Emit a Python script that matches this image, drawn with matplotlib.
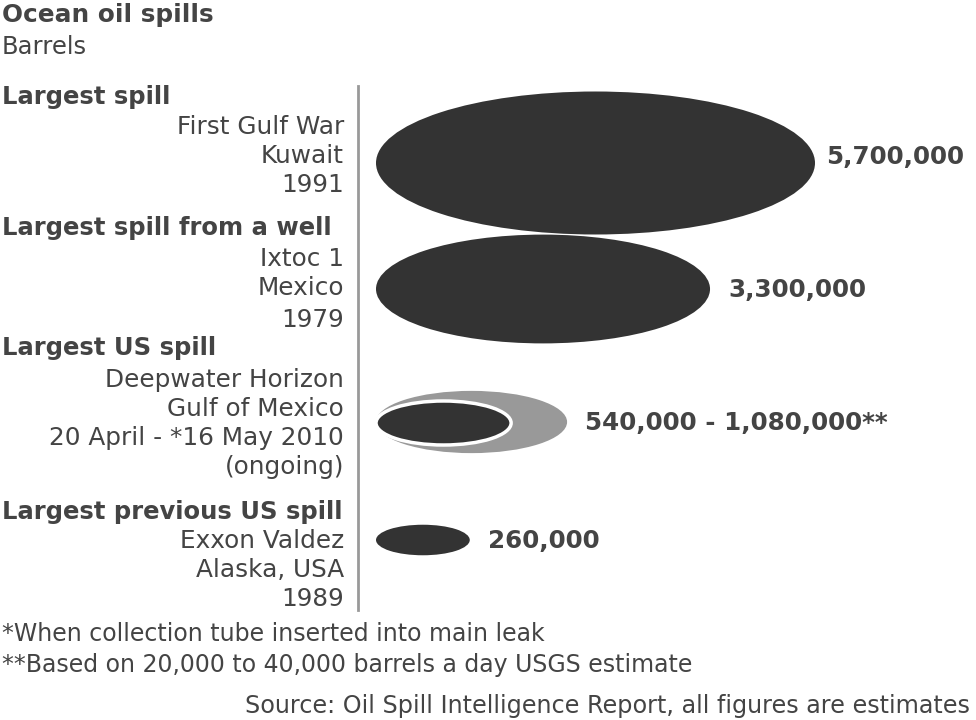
import numpy as np
import matplotlib
matplotlib.use("Agg")
import matplotlib.pyplot as plt
from matplotlib.patches import Ellipse

# Data
headings = ["Largest spill", "Largest spill from a well", "Largest US spill", "Largest previous US spill"]
details = [
    ["First Gulf War", "Kuwait", "1991"],
    ["Ixtoc 1", "Mexico", "1979"],
    ["Deepwater Horizon", "Gulf of Mexico", "20 April - *16 May 2010", "(ongoing)"],
    ["Exxon Valdez", "Alaska, USA", "1989"],
]
low_values = [5700000, 3300000, 540000, 260000]
high_values = [5700000, 3300000, 1080000, 260000]
value_labels = ["5,700,000", "3,300,000", "540,000 - 1,080,000**", "260,000"]

# layout (pixel coordinates)
heading_y = [97, 228, 348, 512]
detail_y = [[127, 156, 185], [259, 288, 320], [380, 409, 438, 467], [541, 570, 599]]
bubble_y = [163, 289, 422, 540]

plt.rcParams['font.family'] = ['DejaVu Sans']
txt = '#444444'
dark = '#333333'

fig = plt.figure(figsize=(9.76, 7.2), dpi=100)
ax = fig.add_axes([0, 0, 1, 1])
ax.set_xlim(0, 976)
ax.set_ylim(720, 0)
ax.axis('off')

ax.text(2, 15, "Ocean oil spills", fontsize=17.8, fontweight='bold', color=txt, va='center')
ax.text(2, 47, "Barrels", fontsize=17.5, color=txt, va='center')

for h, hy, det, dy in zip(headings, heading_y, details, detail_y):
    ax.text(2, hy, h, fontsize=17.5, fontweight='bold', color=txt, va='center')
    for d, y in zip(det, dy):
        ax.text(344, y, d, fontsize=17.8, color=txt, va='center', ha='right')

ax.plot([358, 358], [86, 610], color='#999999', lw=2)

# bubbles: area proportional to value
max_v = max(high_values)
max_w, max_h = 439, 143
left = 376
for lo, hi, lab, y in zip(low_values, high_values, value_labels, bubble_y):
    s_hi = np.sqrt(hi / max_v)
    s_lo = np.sqrt(lo / max_v)
    w, h = max_w * s_hi, max_h * s_hi
    if hi != lo:
        ax.add_patch(Ellipse((left + w / 2, y), w, h, facecolor='#999999', edgecolor='none'))
        w2, h2 = max_w * s_lo, max_h * s_lo
        ax.add_patch(Ellipse((left + w2 / 2, y + 1), w2, h2, facecolor=dark, edgecolor='white', lw=2.5))
    else:
        ax.add_patch(Ellipse((left + w / 2, y), w, h, facecolor=dark, edgecolor='none'))
    big = hi == max_v
    ax.text(left + w + (11 if big else 18), y - 6 if big else y + 1, lab, fontsize=17.7,
            fontweight='bold', color=txt, va='center')

ax.text(2, 634, "*When collection tube inserted into main leak", fontsize=17, color=txt, va='center')
ax.text(2, 665, "**Based on 20,000 to 40,000 barrels a day USGS estimate", fontsize=17, color=txt, va='center')
ax.text(970, 706, "Source: Oil Spill Intelligence Report, all figures are estimates", fontsize=17.2,
        color=txt, va='center', ha='right')

fig.savefig('out.png', dpi=100)
